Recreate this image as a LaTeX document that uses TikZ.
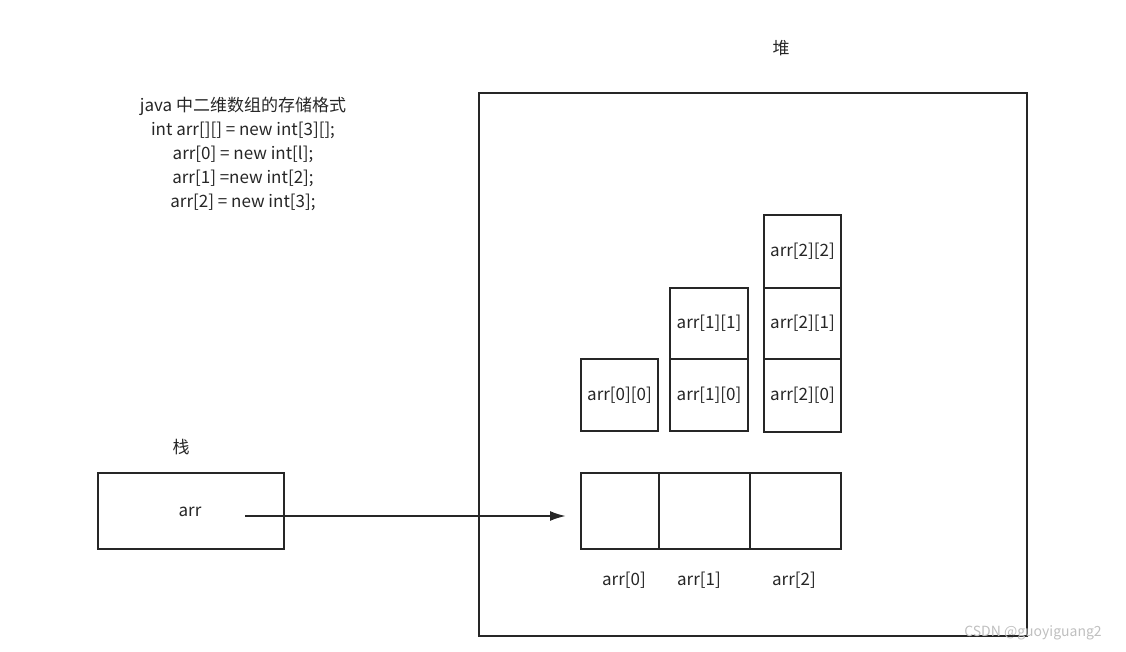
\documentclass[tikz,border=0pt]{standalone}
\usepackage{fontspec}
\setmainfont{Noto Sans CJK SC}
\usetikzlibrary{arrows.meta}
\begin{document}
\begin{tikzpicture}[x=1pt,y=-1pt,
  bx/.style={draw=black!85,line width=2pt},
  lb/.style={font=\fontsize{17}{20}\selectfont,text=black!85,inner sep=0pt},
  cell/.style={bx,minimum width=77pt,minimum height=72pt,anchor=north west,inner sep=0pt,font=\fontsize{17}{20}\selectfont,text=black!85}]
\useasboundingbox (0,0) rectangle (1126,652);
\node[bx,minimum width=548pt,minimum height=543pt,anchor=north west] (heap) at (478,92) {};
\node[lb] (heapl) at (781,48) {堆};
\node[lb,align=center,font=\fontsize{17}{24}\selectfont] (code) at (243,154) {java 中二维数组的存储格式\\int arr[][] = new int[3][];\\arr[0] = new int[l];\\arr[1] =new int[2];\\arr[2] = new int[3];};
\node[lb] (stackl) at (181,447) {栈};
\node[bx,minimum width=186pt,minimum height=76pt,anchor=north west] (stack) at (97,472) {};
\node[lb] (arr) at (190,512) {arr};
\coordinate (as) at (245,516);
\node[bx,minimum width=78pt,minimum height=76pt,anchor=north west] (a0) at (580,472) {};
\node[bx,minimum width=91pt,minimum height=76pt,anchor=north west] (a1) at (658,472) {};
\node[bx,minimum width=91pt,minimum height=76pt,anchor=north west] (a2) at (749,472) {};
\coordinate (ae) at (566,516);
\draw[line width=2pt,draw=black!85,-{Latex[length=16pt,width=10pt]}] (as) -- (ae);
\node[lb] (l0) at (624,580) {arr[0]};
\node[lb] (l1) at (699,580) {arr[1]};
\node[lb] (l2) at (794,580) {arr[2]};
\node[cell] (c00) at (580,358) {arr[0][0]};
\node[cell,minimum width=78pt,minimum height=71pt] (c11) at (669,287) {arr[1][1]};
\node[cell,minimum width=78pt] (c10) at (669,358) {arr[1][0]};
\node[cell,minimum height=73pt] (c22) at (763,214) {arr[2][2]};
\node[cell,minimum height=71pt] (c21) at (763,287) {arr[2][1]};
\node[cell,minimum height=73pt] (c20) at (763,358) {arr[2][0]};
\node[font=\fontsize{14}{16}\selectfont,text=black!25,inner sep=0pt] (wm) at (1033,633) {CSDN @guoyiguang2};
\end{tikzpicture}
\end{document}
